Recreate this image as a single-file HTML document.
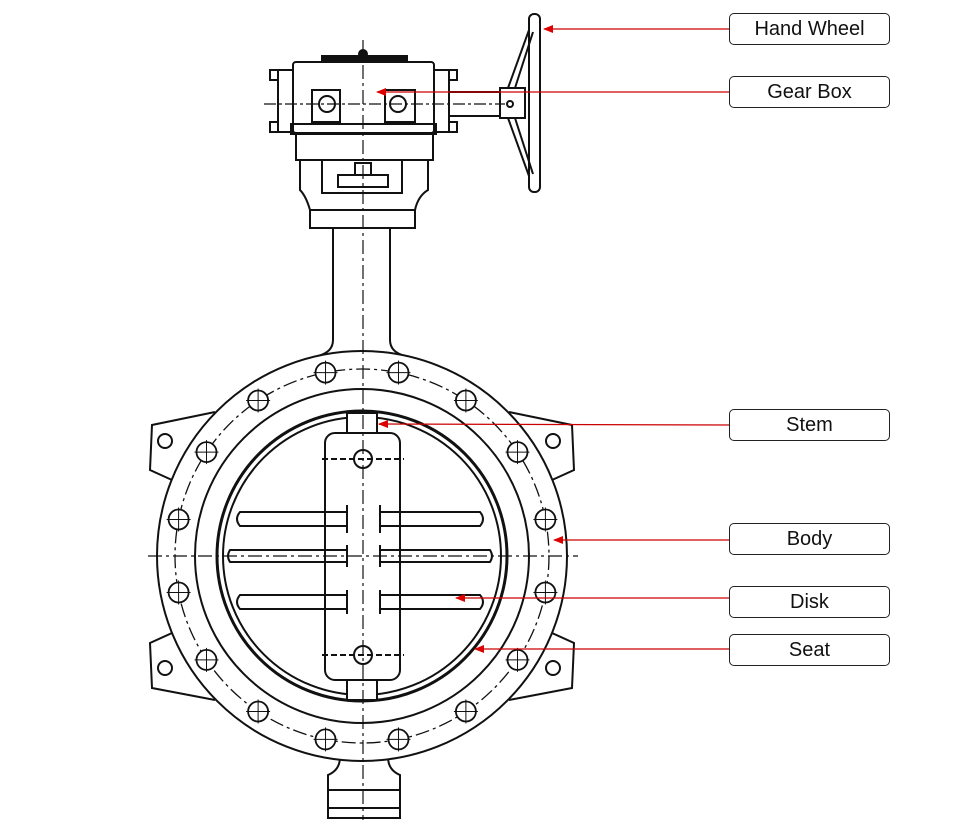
<!DOCTYPE html>
<html><head><style>
body{margin:0;background:#fff;}
.lbl{position:absolute;left:729px;width:159px;height:30px;border:1.5px solid #222;border-radius:5px;font:20px "Liberation Sans",sans-serif;text-align:center;line-height:30px;color:#111;background:#fff;}
</style></head><body>
<div style="position:relative;width:961px;height:827px;overflow:hidden">
<svg width="961" height="827" style="position:absolute;left:0;top:0" fill="none" stroke="#111" stroke-width="2">
<defs><marker id="a" markerWidth="10" markerHeight="8" refX="9" refY="4" orient="auto" markerUnits="userSpaceOnUse"><path d="M0,0 L10,4 L0,8z" fill="#d00" stroke="none"/></marker></defs>
<path d="M215,412 L152,425 L150,470 L172,480" />
<path d="M509,412 L572,425 L574,470 L552,480" />
<path d="M215,700 L152,688 L150,643 L172,633" />
<path d="M509,700 L572,688 L574,643 L552,633" />
<circle cx="165" cy="441" r="7"/><circle cx="553" cy="441" r="7"/><circle cx="165" cy="668" r="7"/><circle cx="553" cy="668" r="7"/>
<path d="M333,228 L333,340 Q333,352 318,356 M390,228 L390,340 Q390,352 405,356"/>
<path d="M340,757 Q340,770 328,775 L328,818 L400,818 L400,775 Q388,770 388,757"/>
<line x1="328" y1="790" x2="400" y2="790"/><line x1="328" y1="808" x2="400" y2="808"/>
<circle cx="362" cy="556" r="205" fill="#fff"/>
<circle cx="362" cy="556" r="187" stroke-dasharray="14,4,3,4" stroke-width="1.3"/>
<circle cx="362" cy="556" r="167"/>
<circle cx="362" cy="556" r="145" stroke-width="3"/>
<circle cx="362" cy="556" r="139"/>
<g id="bolts" stroke-width="1.8"></g>
<rect x="325" y="433" width="75" height="247" rx="10" fill="#fff"/>
<rect x="347" y="413" width="30" height="20" fill="#fff"/>
<rect x="347" y="680" width="30" height="20" fill="#fff"/>
<path d="M347,512 L240,512 Q234,519 240,526 L347,526 M380,512 L480,512 Q486,519 480,526 L380,526"/>
<path d="M347,550 L230,550 Q226,556 230,562 L347,562 M380,550 L490,550 Q494,556 490,562 L380,562"/>
<path d="M347,595 L240,595 Q234,602 240,609 L347,609 M380,595 L480,595 Q486,602 480,609 L380,609"/>
<line x1="347" y1="505" x2="347" y2="533"/><line x1="380" y1="505" x2="380" y2="533"/>
<line x1="347" y1="545" x2="347" y2="567"/><line x1="380" y1="545" x2="380" y2="567"/>
<line x1="347" y1="590" x2="347" y2="614"/><line x1="380" y1="590" x2="380" y2="614"/>
<circle cx="363" cy="459" r="9"/><circle cx="363" cy="655" r="9"/>
<line x1="322" y1="459" x2="404" y2="459" stroke-dasharray="6,3"/><line x1="322" y1="655" x2="404" y2="655" stroke-dasharray="6,3"/>
<line x1="148" y1="556" x2="578" y2="556" stroke-width="1.2" stroke-dasharray="14,4,3,4"/>
<line x1="363" y1="40" x2="363" y2="820" stroke-width="1.2" stroke-dasharray="14,4,3,4"/>
<rect x="322" y="56" width="85" height="6" fill="#111"/>
<circle cx="363" cy="54" r="4" fill="#111"/>
<rect x="293" y="62" width="141" height="71" rx="3"/>
<rect x="278" y="70" width="15" height="62"/><rect x="434" y="70" width="15" height="62"/>
<rect x="270" y="70" width="8" height="10"/><rect x="270" y="122" width="8" height="10"/>
<rect x="449" y="70" width="8" height="10"/><rect x="449" y="122" width="8" height="10"/>
<rect x="291" y="124" width="145" height="10"/>
<path d="M296,134 L296,160 L433,160 L433,134"/>
<path d="M300,160 L300,190 Q306,196 310,210 L415,210 Q418,196 428,190 L428,160"/>
<path d="M322,160 L322,193 L402,193 L402,160"/>
<rect x="338" y="175" width="50" height="12"/><rect x="355" y="163" width="16" height="12"/>
<rect x="310" y="210" width="105" height="18"/>
<path d="M312,90 L340,90 L340,122 L312,122z M385,90 L415,90 L415,122 L385,122z"/>
<circle cx="327" cy="104" r="8"/><circle cx="398" cy="104" r="8"/>
<line x1="264" y1="104" x2="505" y2="104" stroke-width="1.2" stroke-dasharray="12,3,3,3"/>
<path d="M449,92 L500,92 M449,116 L500,116"/>
<rect x="500" y="88" width="25" height="30"/><circle cx="510" cy="104" r="3"/>
<rect x="529" y="14" width="11" height="178" rx="5"/>
<path d="M529,30 L508,88 M529,176 L508,118 M533,32 L515,88 M533,174 L515,118"/>
<g stroke="#c00" stroke-width="1.3">
<line x1="729" y1="29" x2="544" y2="29" marker-end="url(#a)"/>
<line x1="729" y1="92" x2="377" y2="92" marker-end="url(#a)"/>
<line x1="729" y1="425" x2="379" y2="424" marker-end="url(#a)"/>
<line x1="729" y1="540" x2="554" y2="540" marker-end="url(#a)"/>
<line x1="729" y1="598" x2="456" y2="598" marker-end="url(#a)"/>
<line x1="729" y1="649" x2="475" y2="649" marker-end="url(#a)"/>
</g>
</svg>
<div class="lbl" style="top:13px">Hand Wheel</div>
<div class="lbl" style="top:76px">Gear Box</div>
<div class="lbl" style="top:409px">Stem</div>
<div class="lbl" style="top:523px">Body</div>
<div class="lbl" style="top:586px">Disk</div>
<div class="lbl" style="top:634px">Seat</div>
</div>
<script>
var g=document.getElementById('bolts'),s='';
for(var k=0;k<16;k++){var a=(11.25+22.5*k)*Math.PI/180,x=362+187*Math.sin(a),y=556-187*Math.cos(a);
s+='<circle cx="'+x.toFixed(1)+'" cy="'+y.toFixed(1)+'" r="10" fill="#fff"/><line x1="'+(x-12)+'" y1="'+y+'" x2="'+(x+12)+'" y2="'+y+'" stroke-width="1"/><line x1="'+x+'" y1="'+(y-12)+'" x2="'+x+'" y2="'+(y+12)+'" stroke-width="1"/>';}
g.innerHTML=s;
</script>
</body></html>
